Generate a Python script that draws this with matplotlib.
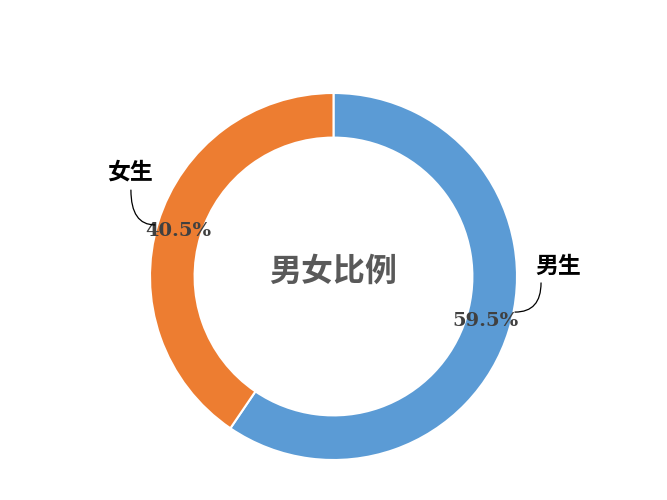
import matplotlib.pyplot as plt

categories = ['男生', '女生']
shares = [59.5, 40.5]
colors = ['#5B9BD5', '#ED7D31']
title = '男女比例'

cjk = ['Noto Sans CJK SC', 'DejaVu Sans']

fig = plt.figure(figsize=(6.67, 5.0), dpi=100)
# square axes so that radius 1 == 183.5 px
ax = fig.add_axes([150 / 667, 40 / 500, 367 / 667, 367 / 500])
ax.pie(shares, colors=colors, startangle=90, counterclock=False, radius=1.0,
       wedgeprops=dict(width=0.243, edgecolor='white', linewidth=1.5))
ax.set_xlim(-1, 1)
ax.set_ylim(-1, 1)
ax.set_aspect('equal')
ax.axis('off')

ax.text(0, 0.025, title, ha='center', va='center', fontsize=23,
        fontweight='heavy', color='#595959', family=cjk)

# label positions (name, percent, leader start, leader end)
label_pos = {
    '男生': ((1.223, 0.057), (0.826, -0.243), (1.131, -0.035), (0.989, -0.194)),
    '女生': ((-1.109, 0.569), (-0.847, 0.248), (-1.104, 0.471), (-0.973, 0.281)),
}
for name, val in zip(categories, shares):
    npos, ppos, lstart, lend = label_pos[name]
    ax.text(*npos, name, ha='center', va='center', fontsize=16.5,
            fontweight='heavy', color='black', family=cjk)
    ax.text(*ppos, f'{val}%', ha='center', va='center', fontsize=14,
            fontweight='bold', color='#404040', family='DejaVu Serif')
    ax.annotate('', xy=lend, xytext=lstart,
                arrowprops=dict(arrowstyle='-', color='black', lw=0.9,
                                shrinkA=0, shrinkB=0,
                                connectionstyle='angle3,angleA=90,angleB=0'))

fig.savefig('out.png', dpi=100)
